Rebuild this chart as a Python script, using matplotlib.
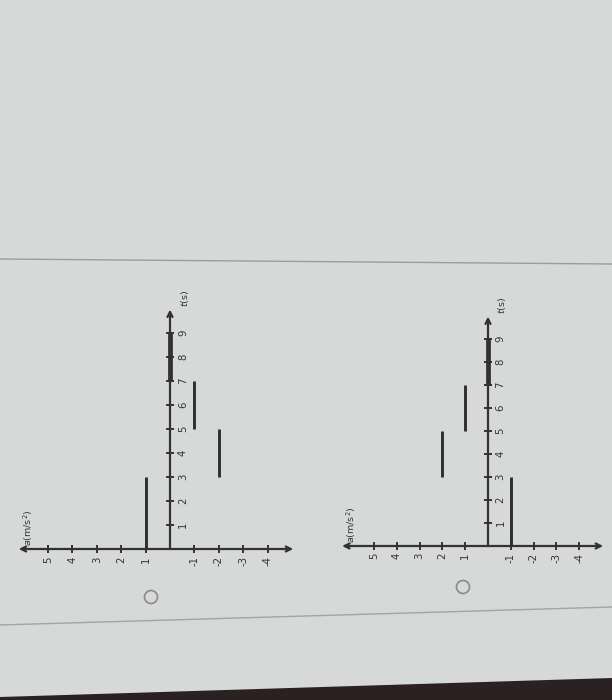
import matplotlib
matplotlib.use('Agg')

import numpy as np
import matplotlib.pyplot as plt
from matplotlib.patches import Circle, Polygon


# ===============================
# Data (both answer options)
# ===============================

a_ticks = [5, 4, 3, 2, 1, -1, -2, -3, -4]
t_ticks = [1, 2, 3, 4, 5, 6, 7, 8, 9]

t_start = [0, 3, 5, 7]
t_end = [3, 5, 7, 9]
a_option1 = [1, -2, -1, 0]
a_option2 = [-1, 2, 1, 0]

W, H = 612, 700
BG = '#d7d9d8'
INK = '#333333'
FS = 7.3

fig = plt.figure(figsize=(W / 100, H / 100), dpi=100)
fig.patch.set_facecolor(BG)

# background: photo of the page (separator lines, radio buttons, dark bezel)
bg = fig.add_axes([0, 0, 1, 1])
bg.set_xlim(0, W)
bg.set_ylim(H, 0)
bg.axis('off')
bg.set_facecolor(BG)
bg.plot([0, W], [259, 264], color='#9b9d9d', lw=1.0)
bg.plot([0, W], [625, 607], color='#a3a5a5', lw=1.0)
bg.add_patch(Polygon([[0, 697], [W, 678], [W, H], [0, H]], closed=True,
                     color='#2b2123', lw=0))
for cx, cy in [(151, 597), (463, 587)]:
    bg.add_patch(Circle((cx, cy), 6.5, fill=False, ec='#8a8a8a', lw=1.2))


def draw_graph(origin, sa, st, a_vals, a_left_end):
    ox, oy = origin
    a_lo, a_hi = 6.8, -5.5
    t_lo, t_hi = -1.4, 11.2
    left = ox - a_lo * sa
    right = ox - a_hi * sa
    bottom = oy - t_lo * st
    top = oy - t_hi * st
    ax = fig.add_axes([left / W, 1 - bottom / H, (right - left) / W, (bottom - top) / H])
    ax.set_xlim(a_lo, a_hi)
    ax.set_ylim(t_lo, t_hi)
    ax.axis('off')
    ax.patch.set_alpha(0)

    # axes with arrows
    ax.annotate('', xy=(-5.05, 0), xytext=(a_left_end, 0),
                arrowprops=dict(arrowstyle='<->', color=INK, lw=1.6,
                                shrinkA=0, shrinkB=0, mutation_scale=9))
    ax.annotate('', xy=(0, 9.98), xytext=(0, 0),
                arrowprops=dict(arrowstyle='->', color=INK, lw=1.6,
                                shrinkA=0, shrinkB=0, mutation_scale=9))

    # ticks and labels on a-axis
    ax.vlines(a_ticks, -0.17, 0.17, color=INK, lw=1.4)
    for a in a_ticks:
        ax.text(a, -0.3, str(a), rotation=90, ha='center', va='top',
                fontsize=FS, color=INK)
    # ticks and labels on t-axis
    ax.hlines(t_ticks, -0.17, 0.17, color=INK, lw=1.4)
    for t in t_ticks:
        ax.text(-0.33, t, str(t), rotation=90, ha='left', va='center',
                fontsize=FS, color=INK)

    ax.text(-0.35, 10.1, r'$t$(s)', rotation=90, ha='left', va='bottom',
            fontsize=FS - 0.5, color=INK)
    ax.text(a_left_end - 0.4, 0.12, r'$a$(m/s$^2$)', rotation=90,
            ha='center', va='bottom', fontsize=FS - 0.5, color=INK)

    # acceleration segments
    for a, t0, t1 in zip(a_vals, t_start, t_end):
        ax.plot([a, a], [t0, t1], color='#2e2e2e',
                lw=3.4 if a == 0 else 2.1, solid_capstyle='butt')


draw_graph((170, 549), 24.4, 24.0, a_option1, 6.2)
draw_graph((488, 546), 22.8, 23.0, a_option2, 6.4)

fig.savefig('out.png', dpi=100, facecolor=BG)
